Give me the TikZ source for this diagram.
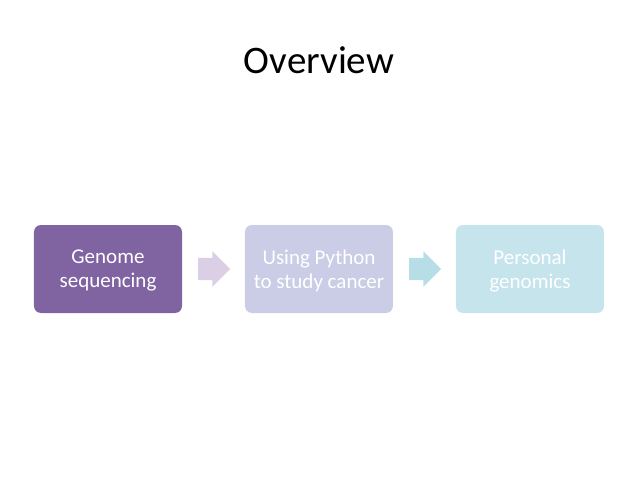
\documentclass[tikz,border=0pt]{standalone}
\usepackage{fontspec}
\setmainfont{Carlito}
\usepackage{tikz}
\usetikzlibrary{matrix,shapes.arrows}

\definecolor{stepone}{HTML}{8064A2}
\definecolor{steptwo}{HTML}{CBCDE7}
\definecolor{stepthree}{HTML}{C6E4EC}
\definecolor{arrowone}{HTML}{DACFE4}
\definecolor{arrowtwo}{HTML}{B7DEE6}

\tikzset{
	stagebox/.style={rounded corners=7pt, minimum width=148pt, minimum height=88pt,
		align=center, text=white, font=\fontsize{21}{24}\selectfont, inner sep=0pt,
		text depth=-4pt},
	blockarrow/.style={single arrow, text height=22pt, text depth=0pt, text width=0pt,
		minimum height=32pt, single arrow head extend=6.5pt, inner sep=0pt, draw=none,
		xshift=-5pt}
}

\begin{document}
\begin{tikzpicture}[x=1pt, y=-1pt]
	\useasboundingbox (0,0) rectangle (638,479);
	\node (title) at (319,60) {\fontsize{39}{44}\selectfont Overview};
	\matrix (m) [column sep=63pt] at (319,269)
	{
		\node [stagebox, fill=stepone] (genome) {Genome\\sequencing}; &
		\node [stagebox, fill=steptwo] (python) {Using Python\\to study cancer}; &
		\node [stagebox, fill=stepthree] (personal) {Personal\\genomics}; \\
	};
	\path
	(genome) -- node [blockarrow, fill=arrowone] (a1) {} (python)
	(python) -- node [blockarrow, fill=arrowtwo] (a2) {} (personal)
	;
\end{tikzpicture}
\end{document}
